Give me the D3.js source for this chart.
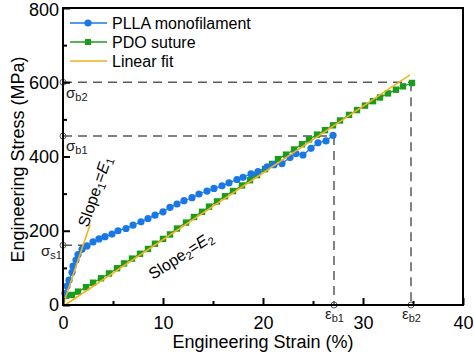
<!DOCTYPE html>
<html><head><meta charset="utf-8">
<script src="https://cdn.jsdelivr.net/npm/d3@7"></script>
<style>body{margin:0;background:#fff}svg{display:block}text{font-family:"Liberation Sans",Arial,sans-serif}</style>
</head><body><svg id="c" width="474" height="356"></svg>
<script>
const pllaStrain = [0.2,0.4,0.6,0.9,1.0,1.3,1.5,1.9,2.4,3.0,3.6,4.2,4.9,5.5,6.3,7.0,7.8,8.5,9.2,10.0,10.7,11.4,12.1,12.9,13.6,14.4,15.1,15.9,16.6,17.4,18.0,18.8,19.5,20.4,21.1,21.9,22.7,23.3,24.0,24.8,25.5,26.3,27.0];
const pllaStress = [31,51,67,88,105,121,136,150,159,170,178,184,191,200,206,215,224,233,242,251,263,272,281,289,299,307,314,321,329,338,344,353,359,372,378,381,397,408,404,422,437,442,457];
const pdoStrain = [0.0,0.3,0.9,1.5,2.3,3.0,3.8,4.6,5.4,6.1,6.9,7.7,8.5,9.2,10.0,10.7,11.4,12.3,13.1,13.9,14.6,15.4,16.2,17.0,17.9,18.7,19.4,20.2,20.9,21.5,22.3,23.1,23.9,24.6,25.4,26.2,27.0,27.7,28.6,29.4,30.2,31.0,31.7,32.5,33.3,34.0,34.9];
const pdoStress = [5,25,27,36,48,60,72,85,99,112,125,138,151,165,178,190,206,222,237,251,265,279,293,307,322,336,350,366,380,393,405,419,433,446,459,471,484,497,512,525,537,549,559,570,580,589,598];
const fit1Strain = [0.1,2.7], fit1Stress = [8,216];
const fit2Strain = [0.2,34.7], fit2Stress = [0,620];
const xTicks = [0,10,20,30,40], yTicks = [0,200,400,600,800];
const seriesNames = ["PLLA monofilament","PDO suture","Linear fit"];
const sigmaB2 = 600, sigmaB1 = 455, sigmaS1 = 161, epsS1 = 2.3, epsB1 = 27.1, epsB2 = 34.8;

const svg = d3.select("#c");
const m = {l:63,t:8,r:463,b:305};
const x = d3.scaleLinear().domain([0,40]).range([m.l,m.r]);
const y = d3.scaleLinear().domain([0,800]).range([m.b,m.t]);
const blue="#1a78e6", green="#1c9c1c", gold="#f1b21e", dash="#5a5a5a";

// dashed guides
const g = svg.append("g").attr("stroke",dash).attr("stroke-width",1.5).attr("stroke-dasharray","9,6").attr("fill","none");
const seg=(x1,y1,x2,y2)=>g.append("line").attr("x1",x(x1)).attr("y1",y(y1)).attr("x2",x(x2)).attr("y2",y(y2));
seg(0,sigmaB2,epsB2,sigmaB2); seg(epsB2,sigmaB2,epsB2,0);
seg(0,sigmaB1,epsB1,sigmaB1); seg(epsB1,sigmaB1,epsB1,0);
seg(0,sigmaS1,epsS1,sigmaS1);

// data
const line=d3.line().x(d=>x(d[0])).y(d=>y(d[1]));
const pdo=pdoStrain.map((v,i)=>[v,pdoStress[i]]);
const plla=pllaStrain.map((v,i)=>[v,pllaStress[i]]);
svg.append("path").attr("d",line(pdo)).attr("stroke",green).attr("stroke-width",1.2).attr("fill","none");
svg.selectAll(".sq").data(pdo.slice(1)).join("rect").attr("x",d=>x(d[0])-3.2).attr("y",d=>y(d[1])-3.2).attr("width",6.4).attr("height",6.4).attr("fill",green);
svg.append("path").attr("d",line(plla)).attr("stroke",blue).attr("stroke-width",1.2).attr("fill","none");
svg.selectAll(".dt").data(plla).join("circle").attr("cx",d=>x(d[0])).attr("cy",d=>y(d[1])).attr("r",3.6).attr("fill",blue);
svg.append("path").attr("d",line(fit1Strain.map((v,i)=>[v,fit1Stress[i]]))).attr("stroke",gold).attr("stroke-width",1.6).attr("fill","none");
svg.append("path").attr("d",line(fit2Strain.map((v,i)=>[v,fit2Stress[i]]))).attr("stroke",gold).attr("stroke-width",1.6).attr("fill","none");

// open circles on axes
[[0,sigmaB2],[0,sigmaB1],[0,sigmaS1],[epsB1,0],[epsB2,0]].forEach(p=>{
  svg.append("circle").attr("cx",x(p[0])).attr("cy",y(p[1])).attr("r",3).attr("fill","none").attr("stroke",dash).attr("stroke-width",1);
});

// frame and axes
svg.append("rect").attr("x",m.l).attr("y",m.t).attr("width",m.r-m.l).attr("height",m.b-m.t).attr("fill","none").attr("stroke","#000").attr("stroke-width",2);
const xa=svg.append("g").attr("transform",`translate(0,${m.b})`).call(d3.axisBottom(x).tickValues(xTicks).tickSize(-7).tickPadding(11).tickFormat(d3.format("d")));
const xm=svg.append("g").attr("transform",`translate(0,${m.b})`).call(d3.axisBottom(x).tickValues([5,15,25,35]).tickSize(-4).tickFormat(""));
const ya=svg.append("g").attr("transform",`translate(${m.l},0)`).call(d3.axisLeft(y).tickValues(yTicks).tickSize(-7).tickPadding(4).tickFormat(d3.format("d")));
const ym=svg.append("g").attr("transform",`translate(${m.l},0)`).call(d3.axisLeft(y).tickValues([100,300,500,700]).tickSize(-4).tickFormat(""));
[xa,xm,ya,ym].forEach(a=>{a.select(".domain").remove();a.selectAll("line").attr("stroke","#000").attr("stroke-width",2);a.selectAll("text").attr("font-size",18).attr("fill","#000").attr("font-family","Liberation Sans, Arial, sans-serif");});
ya.selectAll("text").filter(d=>d===800).attr("dy","0.42em");

// titles
svg.append("text").attr("x",(m.l+m.r)/2).attr("y",348).attr("text-anchor","middle").attr("font-size",18).text("Engineering Strain (%)");
svg.append("text").attr("transform",`translate(24,${(m.t+m.b)/2+3}) rotate(-90)`).attr("text-anchor","middle").attr("font-size",18).text("Engineering Stress (MPa)");

// sigma / epsilon labels
function sub(xp,yp,main,s,anchor){
  const t=svg.append("text").attr("x",xp).attr("y",yp).attr("font-size",15).attr("fill","#222").attr("text-anchor",anchor||"start");
  t.append("tspan").text(main);
  t.append("tspan").attr("font-size",11).attr("dy",3).text(s);
}
sub(66,98,"σ","b2"); sub(66,151,"σ","b1"); sub(41,256,"σ","s1");
sub(x(epsB1)-9,319,"ε","b1"); sub(x(epsB2)-9,319,"ε","b2");

// slope labels
function slope(xp,yp,ang,n){
  const t=svg.append("text").attr("transform",`translate(${xp},${yp}) rotate(${ang})`).attr("font-size",16).attr("fill","#000");
  t.append("tspan").text("Slope");
  t.append("tspan").attr("font-size",11).attr("dy",3).text(n);
  t.append("tspan").attr("dy",-3).text("=");
  t.append("tspan").attr("font-style","italic").text("E");
  t.append("tspan").attr("font-size",11).attr("dy",3).text(n);
}
slope(88,228,-71,"1");
slope(153,280,-33,"2");

// legend
const leg=[{c:blue,s:"c"},{c:green,s:"s"},{c:gold,s:"n"}];
const ly=[23,42,61];
leg.forEach((L,i)=>{
  svg.append("line").attr("x1",70).attr("x2",107).attr("y1",ly[i]).attr("y2",ly[i]).attr("stroke",L.c).attr("stroke-width",1.4);
  if(L.s==="c") svg.append("circle").attr("cx",88).attr("cy",ly[i]).attr("r",3.6).attr("fill",L.c);
  if(L.s==="s") svg.append("rect").attr("x",85).attr("y",ly[i]-3).attr("width",6).attr("height",6).attr("fill",L.c);
  svg.append("text").attr("x",112).attr("y",ly[i]+6).attr("font-size",16).text(seriesNames[i]);
});
</script></body></html>
